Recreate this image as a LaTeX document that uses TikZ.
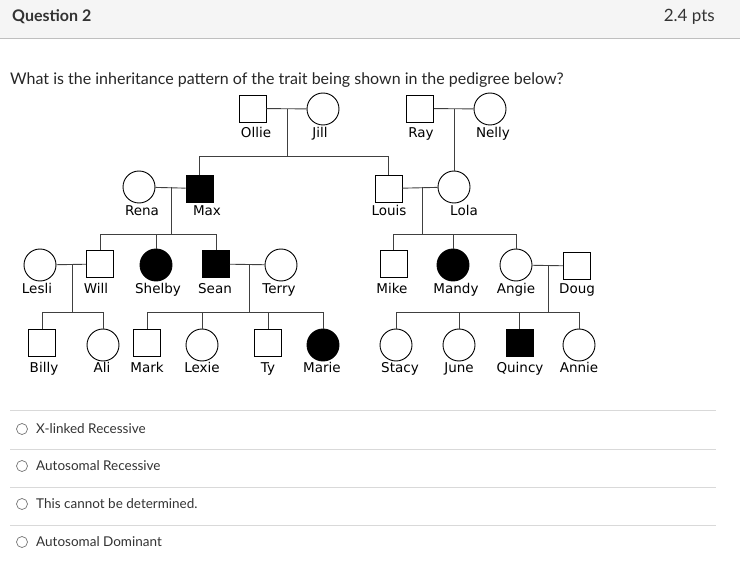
\documentclass[tikz,border=0pt]{standalone}
\usepackage{fontspec}
\setmainfont{Lato}
\newfontfamily\pedfont{DejaVu Sans}
\begin{document}
\begin{tikzpicture}[x=1pt,y=-1pt,
  sq/.style={draw=black,line width=0.9pt,fill=white,minimum size=27pt,inner sep=0pt},
  ci/.style={circle,draw=black,line width=0.9pt,fill=white,minimum size=32pt,inner sep=0pt},
  fsq/.style={sq,fill=black},
  fci/.style={ci,fill=black},
  lab/.style={font=\pedfont\fontsize{13.5}{14}\selectfont,inner sep=0pt,anchor=base},
  ln/.style={line width=0.9pt,draw=black!75},
  radio/.style={circle,draw=black!55,line width=0.7pt,minimum size=11pt,inner sep=0pt},
  opt/.style={anchor=west,font=\fontsize{13.5}{15}\selectfont,text=black!80,inner sep=0pt},
  sep/.style={draw=black!15,line width=0.6pt}]
\useasboundingbox (0,0) rectangle (740,583);
\fill[black!4] (0,0) rectangle (740,38);
\draw[black!25,line width=0.7pt] (0,38.5) -- (740,38.5);
\node[anchor=west,font=\bfseries\fontsize{16}{18}\selectfont,text=black!80,inner sep=0pt] (q) at (12,17) {Question 2};
\node[anchor=east,font=\fontsize{17}{18}\selectfont,text=black!80,inner sep=0pt] (pts) at (715,17) {2.4 pts};
\node[anchor=west,font=\fontsize{16}{18}\selectfont,text=black!85,inner sep=0pt] (qt) at (10,80) {What is the inheritance pattern of the trait being shown in the pedigree below?};
% generation 1
\node[sq] (ollie) at (252.5,108.5) {};
\node[ci] (jill) at (323,109) {};
\node[sq] (ray) at (420,108.5) {};
\node[ci] (nelly) at (490,109) {};
% generation 2
\node[ci] (rena) at (139,187) {};
\node[fsq] (max) at (199.5,188.5) {};
\node[sq] (louis) at (388.5,188.5) {};
\node[ci] (lola) at (454,187) {};
% generation 3
\node[ci] (lesli) at (40,265) {};
\node[sq] (will) at (100,264) {};
\node[fci] (shelby) at (156,265) {};
\node[fsq] (sean) at (216,264) {};
\node[ci] (terry) at (281,265) {};
\node[sq] (mike) at (393.5,264) {};
\node[fci] (mandy) at (453,265) {};
\node[ci] (angie) at (516,265) {};
\node[sq] (doug) at (577,266) {};
% generation 4
\node[sq] (billy) at (42,342.5) {};
\node[ci] (ali) at (103,345) {};
\node[sq] (mark) at (147,342.5) {};
\node[ci] (lexie) at (202,345) {};
\node[sq] (ty) at (268,342.5) {};
\node[fci] (marie) at (323,345) {};
\node[ci] (stacy) at (396,345) {};
\node[ci] (june) at (459,345) {};
\node[fsq] (quincy) at (519.5,342.5) {};
\node[ci] (annie) at (579,345) {};
% labels
\foreach \n/\t/\x/\y in {lOllie/Ollie/256/138,lJill/Jill/320/138,lRay/Ray/421/138,lNelly/Nelly/493/138,
  lRena/Rena/142/216,lMax/Max/207/216,lLouis/Louis/389/216,lLola/Lola/464/216,
  lLesli/Lesli/37/294,lWill/Will/96/294,lShelby/Shelby/158/294,lSean/Sean/215/294,lTerry/Terry/279/294,
  lMike/Mike/392/294,lMandy/Mandy/456/294,lAngie/Angie/516/294,lDoug/Doug/577/294,
  lBilly/Billy/44/372,lAli/Ali/102/372,lMark/Mark/147/372,lLexie/Lexie/202/372,lTy/Ty/268/372,lMarie/Marie/322/372,
  lStacy/Stacy/400/372,lJune/June/459/372,lQuincy/Quincy/520/372,lAnnie/Annie/579/372}
  \node[lab] (\n) at (\x,\y) {\t};
% junction coordinates
\coordinate (m1) at (287,109); \coordinate (d1) at (287,156);
\coordinate (m2) at (454,109);
\coordinate (m3) at (171,187); \coordinate (d3) at (171,234);
\coordinate (m4) at (422,187); \coordinate (d4) at (422,234);
\coordinate (m5) at (72,265); \coordinate (d5) at (72,312);
\coordinate (m6) at (249,265); \coordinate (d6) at (249,312);
\coordinate (m7) at (548,265); \coordinate (d7) at (548,312);
% mating lines and descents
\draw[ln] (ollie) -- (jill); \draw[ln] (m1) -- (d1);
\draw[ln] (d1) -| (max.north); \draw[ln] (d1) -| (louis.north);
\draw[ln] (ray) -- (nelly); \draw[ln] (m2) -- (lola.north);
\draw[ln] (rena) -- (max); \draw[ln] (m3) -- (d3);
\draw[ln] (d3) -| (will.north); \draw[ln] (d3) -| (sean.north);
\draw[ln] (shelby.north) -- (shelby.north |- d3);
\draw[ln] (louis) -- (lola); \draw[ln] (m4) -- (d4);
\draw[ln] (d4) -| (mike.north); \draw[ln] (d4) -| (angie.north);
\draw[ln] (mandy.north) -- (mandy.north |- d4);
\draw[ln] (lesli) -- (will); \draw[ln] (m5) -- (d5);
\draw[ln] (d5) -| (billy.north); \draw[ln] (d5) -| (ali.north);
\draw[ln] (sean) -- (terry); \draw[ln] (m6) -- (d6);
\draw[ln] (d6) -| (mark.north); \draw[ln] (d6) -| (marie.north);
\draw[ln] (lexie.north) -- (lexie.north |- d6);
\draw[ln] (ty.north) -- (ty.north |- d6);
\draw[ln] (angie) -- (doug); \draw[ln] (m7) -- (d7);
\draw[ln] (d7) -| (stacy.north); \draw[ln] (d7) -| (annie.north);
\draw[ln] (june.north) -- (june.north |- d7);
\draw[ln] (quincy.north) -- (quincy.north |- d7);
% answer options
\foreach \y in {410.5,449,487,525.5} \draw[sep] (10,\y) -- (716,\y);
\node[radio] (r1) at (22,429) {}; \node[opt] (o1) at (36,429) {X-linked Recessive};
\node[radio] (r2) at (22,466) {}; \node[opt] (o2) at (36,466) {Autosomal Recessive};
\node[radio] (r3) at (22,504) {}; \node[opt] (o3) at (36,504) {This cannot be determined.};
\node[radio] (r4) at (22,542) {}; \node[opt] (o4) at (36,542) {Autosomal Dominant};
\end{tikzpicture}
\end{document}
